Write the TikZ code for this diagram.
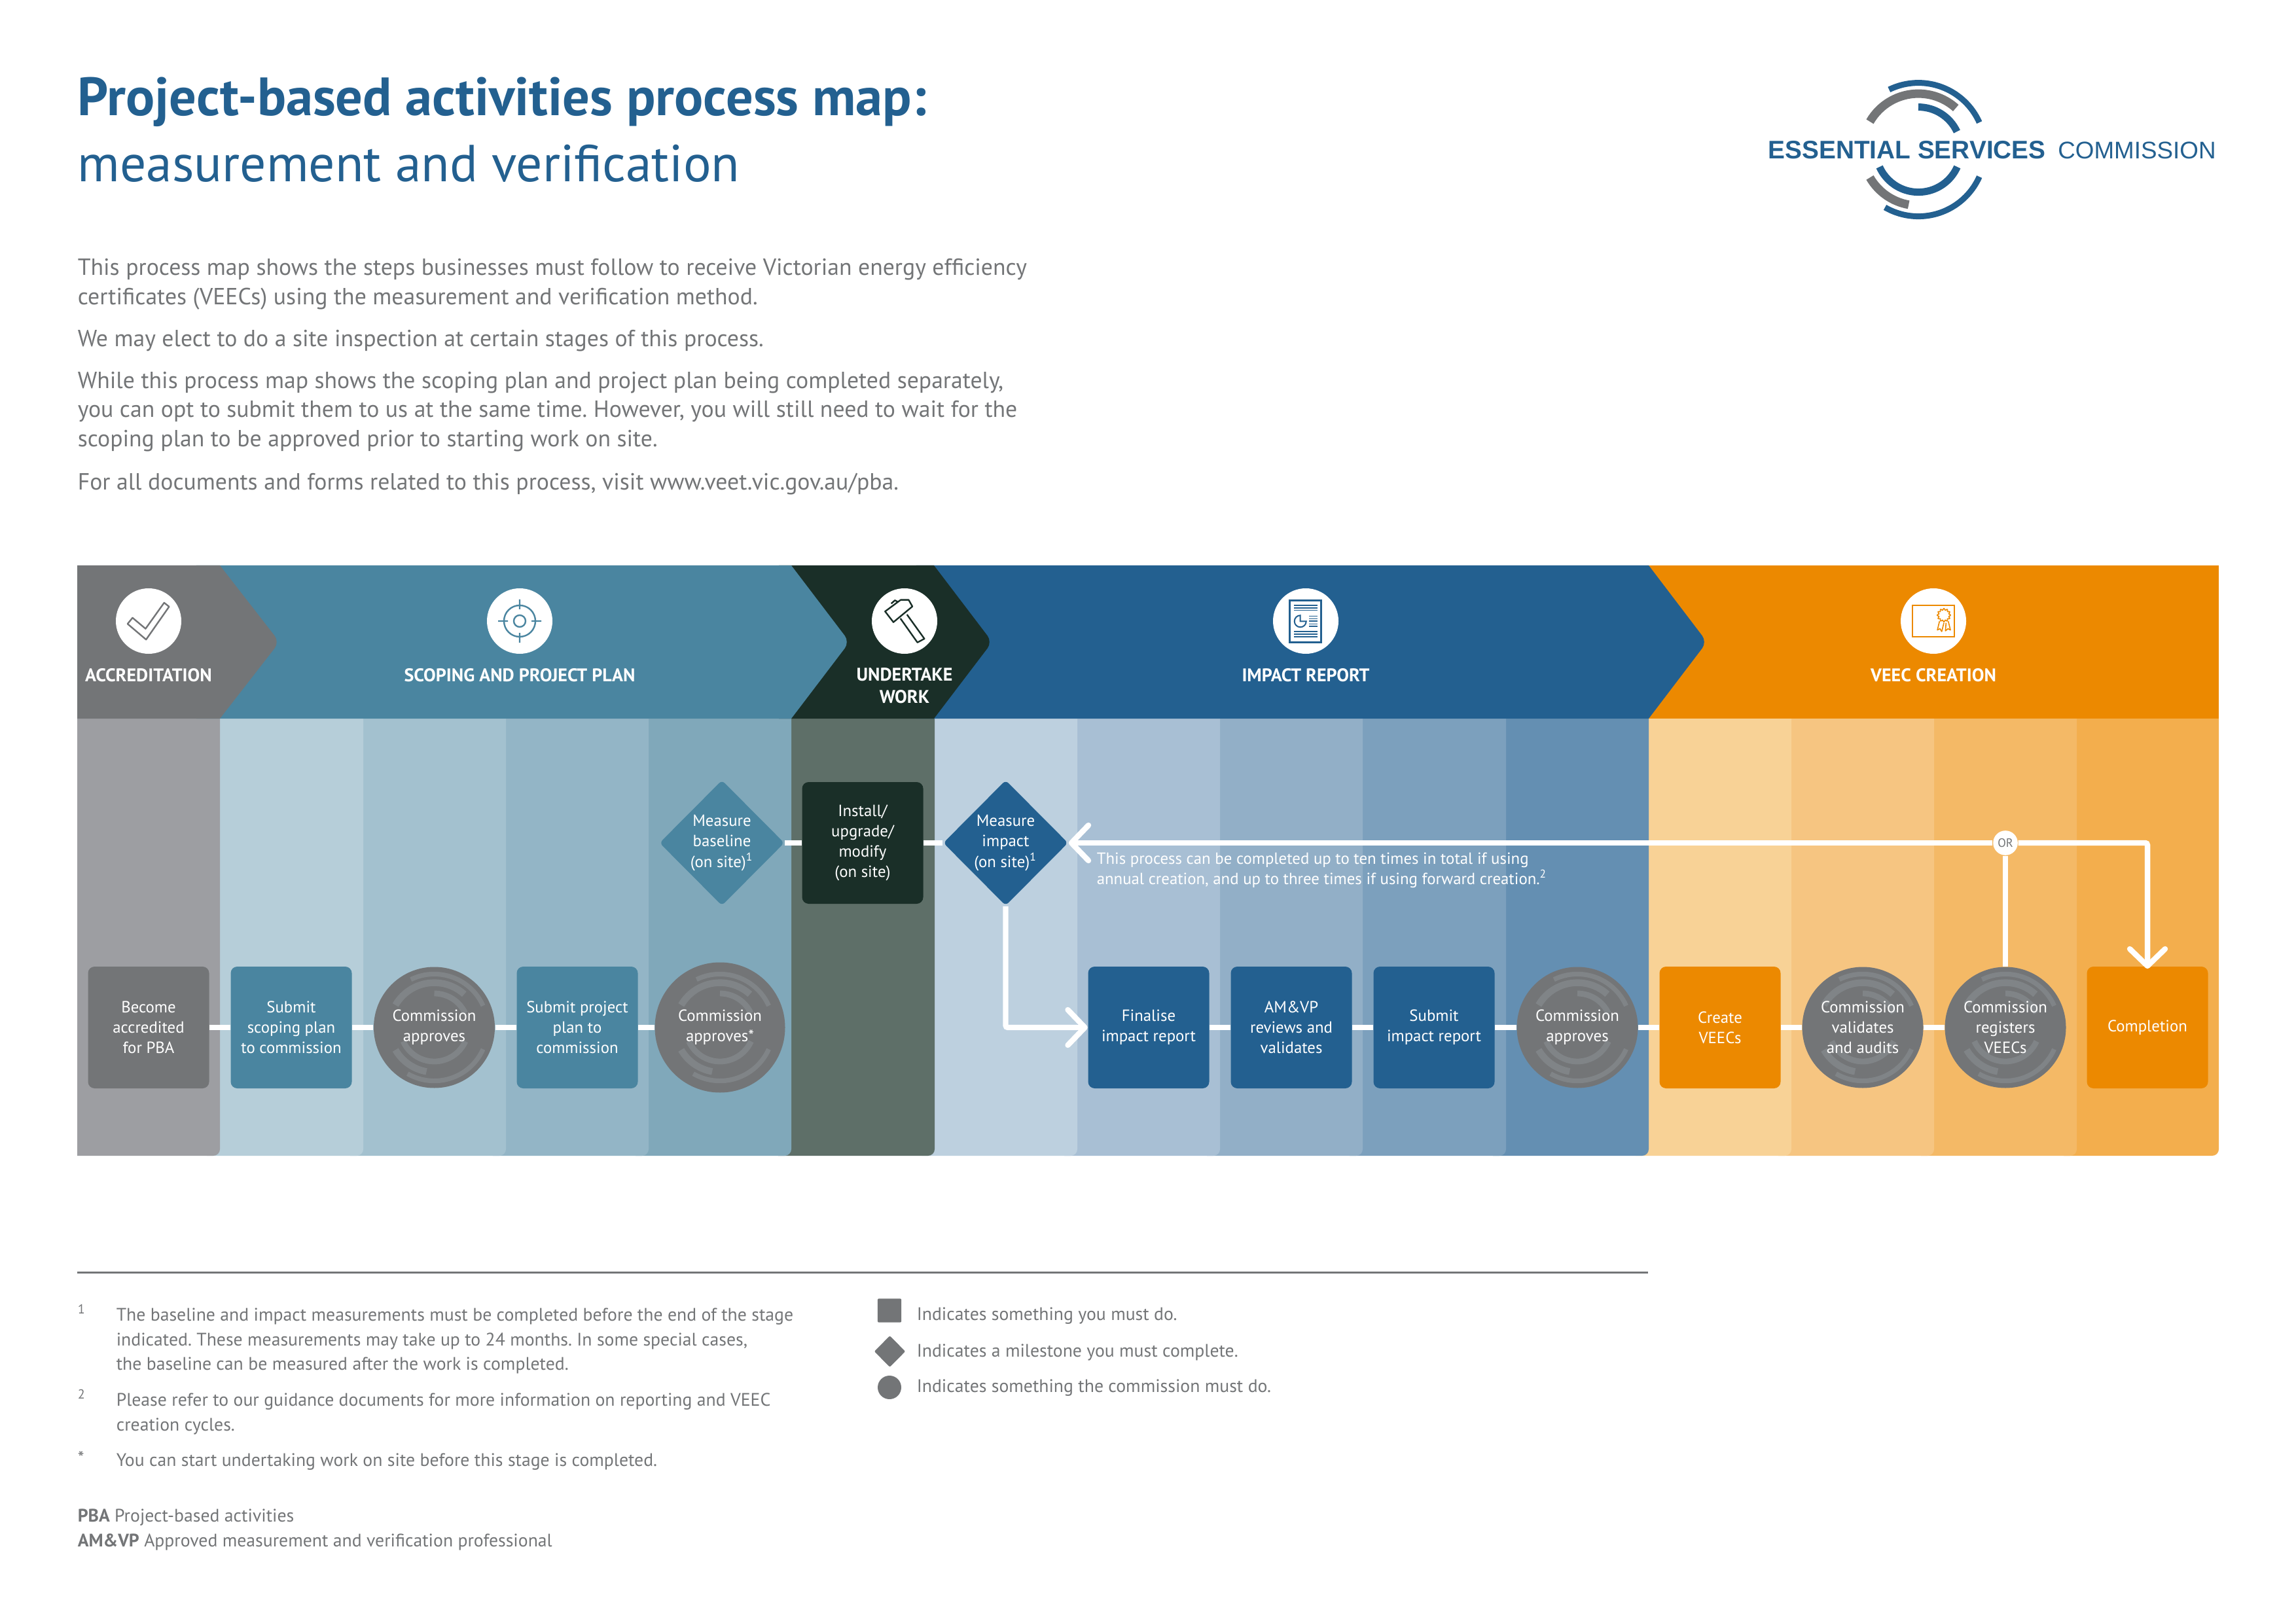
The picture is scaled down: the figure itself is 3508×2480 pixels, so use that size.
\documentclass[tikz,border=0pt]{standalone}
\usepackage{fontspec}
\setmainfont{PT Sans}
\newfontfamily\logofont{Liberation Sans}
\usetikzlibrary{arrows.meta,shapes.geometric}
\definecolor{escgrey}{HTML}{737577}
\definecolor{escteal}{HTML}{4A85A0}
\definecolor{escdark}{HTML}{1A2F28}
\definecolor{escblue}{HTML}{236090}
\definecolor{escorange}{HTML}{EC8900}
\definecolor{escmark}{HTML}{808487}
\tikzset{
	bodytext/.style={anchor=west, inner sep=0pt, align=left, text=escgrey, font=\fontsize{8.93}{11.2}\selectfont},
	notetext/.style={anchor=west, inner sep=0pt, align=left, text=escgrey, font=\fontsize{6.93}{9.4}\selectfont},
	headtext/.style={inner sep=0pt, align=center, text=white, font=\fontsize{7}{8.5}\selectfont\bfseries},
	flowtext/.style={inner sep=0pt, align=center, text=white, font=\fontsize{6.2}{7.8}\selectfont},
	stepbox/.style={flowtext, draw=none, fill=#1, rounded corners=2.5pt, minimum width=46.25pt, minimum height=46.5pt},
	milestone/.style={flowtext, diamond, aspect=1, inner sep=-7pt, fill=#1, rounded corners=1.5pt, minimum width=47.75pt, minimum height=48pt},
	commstep/.style={flowtext, circle, minimum size=#1},
	flowline/.style={white, line width=2.1pt, rounded corners=0.8pt},
	badge/.style={line width=0.6pt}
}
\newcommand{\logoarcs}[5]{
	\begin{scope}[shift={(#1,#2)}, scale=#3]
		\draw[#4, line width=2.25pt*#3] (-116:102) arc (-116:-24:102);
		\draw[#4, line width=2.25pt*#3] (24:102) arc (24:120:102);
		\draw[#5, line width=3.25pt*#3] (-150:85.5) arc (-150:-48:85.5);
		\draw[#5, line width=3.25pt*#3] (150:85.5) arc (150:100:85.5);
		\draw[#4, line width=2.75pt*#3] (-90:65) arc (-90:-25:65);
		\draw[#4, line width=2.75pt*#3] (24:65) arc (24:156:65);
	\end{scope}
}
\begin{document}
\frenchspacing
\begin{tikzpicture}[x=0.25pt, y=-0.25pt, >={Straight Barb[length=6.5pt, width=13.5pt, round]}]
	\useasboundingbox (0,0) rectangle (3508,2480);
	\node[anchor=west, inner sep=0pt, text=escblue, font=\fontsize{20.6}{24}\selectfont\bfseries] (title) at (118,156) {Project-based activities process map:};
	\node[anchor=west, inner sep=0pt, text=escblue, font=\fontsize{19.9}{24}\selectfont] (subtitle) at (118,250) {measurement and verification};
	\node[bodytext] (introa) at (118,434) {This process map shows the steps businesses must follow to receive Victorian energy efficiency\\certificates (VEECs) using the measurement and verification method.};
	\node[bodytext] (introb) at (118,521) {We may elect to do a site inspection at certain stages of this process.};
	\node[bodytext] (introc) at (118,629) {While this process map shows the scoping plan and project plan being completed separately,\\you can opt to submit them to us at the same time. However, you will still need to wait for the\\scoping plan to be approved prior to starting work on site.};
	\node[bodytext] (introd) at (118,740) {For all documents and forms related to this process, visit www.veet.vic.gov.au/pba.};
	\logoarcs{2931}{228.6}{1}{escblue}{escgrey}
	\node[inner sep=0pt, text=escblue] (logo) at (3043.5,229) {\logofont\fontsize{9.7}{12}\selectfont\textbf{ESSENTIAL SERVICES}\hspace{2pt} \fontsize{9.2}{12}\selectfont COMMISSION};
	\foreach \xa/\xb/\shade in {3173/3390/F3AE4D, 2955/3173/F4B966, 2737/2955/F6C581, 2519/2737/F8D296, 2301/2519/648FB2, 2082/2301/7CA0BD, 1864/2082/92AFC7, 1646/1864/A8BFD4, 1428/1646/BDD0DF, 1209/1428/5E6F68, 991/1209/80A8BA, 773/991/93B5C6, 555/773/A3C1CF, 336/555/B6CED9, 118/336/9D9EA2} {
		\definecolor{colshade}{HTML}{\shade}
		\fill[colshade] (\xa,1098) -- (\xb,1098) [rounded corners=2.5pt] -- (\xb,1766) [sharp corners] -- (\xa-20,1766) -- (\xa-20,1098) -- cycle;
	}
	\fill[white] (0,1098) rectangle (118,1780);
	\fill[escorange] (2400,864) rectangle (3390,1098);
	\fill[escblue] (1400,864) -- (2519,864) [rounded corners=3pt] -- (2608,981) [sharp corners] -- (2519,1098) -- (1400,1098) -- cycle;
	\fill[escdark] (1190,864) -- (1427,864) [rounded corners=3pt] -- (1516,981) [sharp corners] -- (1427,1098) -- (1190,1098) -- cycle;
	\fill[escteal] (300,864) -- (1209,864) [rounded corners=3pt] -- (1298,981) [sharp corners] -- (1209,1098) -- (300,1098) -- cycle;
	\fill[escgrey] (118,864) -- (336,864) [rounded corners=3pt] -- (427,981) [sharp corners] -- (336,1098) -- (118,1098) -- cycle;
	\foreach \xa in {227,794,1382,1995,2954} {
		\fill[white] (\xa,949) circle (50);
	}
	\draw[escgrey, badge, line join=round] (250.8,921) -- (258.4,927) -- (223.2,977.3) -- (194.9,953.3) -- (202.5,944) -- (222.4,960.7) -- cycle;
	\draw[escteal, badge] (794,949) circle (24) (794,949) circle (9) (794,916) -- (794,931) (794,967) -- (794,982) (761,949) -- (776,949) (812,949) -- (827,949);
	\draw[escdark, badge, line join=round] (1352.3,934.3) -- (1376,916.7) -- (1388.3,916.7) -- (1394,926.7) -- (1365,950.7) -- cycle (1361.7,922.3) -- (1367.3,917.3) -- (1371,919.3) (1375.7,945) -- (1401.7,981.7) -- (1412.3,976) -- (1385.7,939);
	\draw[escblue, line width=0.75pt] (1970,917.3) rectangle (2018.3,981.7);
	\draw[escblue, line width=0.5pt] (1986.7,940.3) arc (-90:-360:9) -- (1986.7,949.3) -- cycle;
	\foreach \ya in {925,929,932.7,965,969,972.7} {
		\draw[escblue, line width=0.4pt] (1977.3,\ya) -- (2012.7,\ya);
	}
	\foreach \ya in {941.7,945.7,949.3,953.3,957} {
		\draw[escblue, line width=0.4pt] (2000.3,\ya) -- (2012.7,\ya);
	}
	\draw[escorange, line width=0.55pt] (2921.7,925) rectangle (2986,973.3);
	\draw[escorange, line width=0.4pt] plot[domain=0:360, samples=73, smooth] ({2970+(9+1.2*cos(12*\x))*cos(\x)},{940+(9+1.2*cos(12*\x))*sin(\x)});
	\draw[escorange, line width=0.4pt, line join=round] (2963.3,949.3) -- (2960,962.7) -- (2964,960.7) -- (2966.7,965) -- (2970,951.7) (2973.3,951.7) -- (2972.3,964) -- (2976.3,960.7) -- (2980,962.7) -- (2976.7,949.3);
	\node[headtext] (accreditation) at (227,1032) {ACCREDITATION};
	\node[headtext] (scopehead) at (794,1032) {SCOPING AND PROJECT PLAN};
	\node[headtext] (workhead) at (1382,1048) {UNDERTAKE\\WORK};
	\node[headtext] (impacthead) at (1995,1032) {IMPACT REPORT};
	\node[headtext] (veechead) at (2954,1032) {VEEC CREATION};
	\foreach \xa/\rad in {663.5/92.5,2410/92.5,2846/92.5,3064/92.5,1100/99.5} {
		\fill[escgrey] (\xa,1570) circle (\rad);
		\logoarcs{\xa}{1570}{0.8}{escmark}{escmark}
	}
	\node[stepbox=escgrey] (accredit) at (227,1570) {Become\\accredited\\for PBA};
	\node[stepbox=escteal] (scoping) at (445,1570) {Submit\\scoping plan\\to commission};
	\node[commstep=46.25pt] (approvea) at (663.5,1570) {Commission\\approves};
	\node[stepbox=escteal] (projectplan) at (882,1570) {Submit project\\plan to\\commission};
	\node[commstep=49.75pt] (approveb) at (1100,1570) {Commission\\approves*};
	\node[milestone=escteal] (baseline) at (1103,1288) {Measure\\baseline\\(on site)\textsuperscript{1}};
	\node[stepbox=escdark] (install) at (1318,1288) {Install/\\upgrade/\\modify\\(on site)};
	\node[milestone=escblue] (impact) at (1536.5,1288) {Measure\\impact\\(on site)\textsuperscript{1}};
	\node[stepbox=escblue] (finalise) at (1755,1570) {Finalise\\impact report};
	\node[stepbox=escblue] (validate) at (1973,1570) {AM\&VP\\reviews and\\validates};
	\node[stepbox=escblue] (submit) at (2191,1570) {Submit\\impact report};
	\node[commstep=46.25pt] (approvec) at (2410,1570) {Commission\\approves};
	\node[stepbox=escorange] (create) at (2628,1570) {Create\\VEECs};
	\node[commstep=46.25pt] (audit) at (2846,1570) {Commission\\validates\\and audits};
	\node[commstep=46.25pt] (register) at (3064,1570) {Commission\\registers\\VEECs};
	\node[stepbox=escorange] (completion) at (3281,1570) {Completion};
	\node[circle, fill=white, inner sep=0pt, minimum size=9.4pt, text=escgrey, font=\fontsize{4.6}{5}\selectfont] (orsplit) at (3064,1288) {OR};
	\node[flowtext, anchor=west, align=left] (repeatnote) at (1675,1330) {This process can be completed up to ten times in total if using\\annual creation, and up to three times if using forward creation.\textsuperscript{2}};
	\draw[flowline] (accredit) -- (scoping);
	\draw[flowline] (scoping) -- (approvea);
	\draw[flowline] (approvea) -- (projectplan);
	\draw[flowline] (projectplan) -- (approveb);
	\draw[flowline] (baseline) -- (install);
	\draw[flowline] (install) -- (impact);
	\draw[flowline, ->] (impact) |- (finalise);
	\draw[flowline] (finalise) -- (validate);
	\draw[flowline] (validate) -- (submit);
	\draw[flowline] (submit) -- (approvec);
	\draw[flowline] (approvec) -- (create);
	\draw[flowline] (create) -- (audit);
	\draw[flowline] (audit) -- (register);
	\draw[flowline] (register) -- (orsplit);
	\draw[flowline, ->] (orsplit) -- (impact);
	\draw[flowline, ->] (orsplit) -| ([yshift=-1pt]completion.north);
	\draw[escgrey, line width=0.75pt] (118,1944) -- (2518,1944);
	\node[notetext] (marka) at (118,2000) {\fontsize{5}{6}\selectfont 1};
	\node[notetext] (notea) at (177,2049) {The baseline and impact measurements must be completed before the end of the stage\\indicated. These measurements may take up to 24 months. In some special cases,\\the baseline can be measured after the work is completed.};
	\node[notetext] (markb) at (118,2130) {\fontsize{5}{6}\selectfont 2};
	\node[notetext] (noteb) at (177,2160.5) {Please refer to our guidance documents for more information on reporting and VEEC\\creation cycles.};
	\node[notetext] (markc) at (118,2228) {*};
	\node[notetext] (notec) at (177,2234) {You can start undertaking work on site before this stage is completed.};
	\node[notetext] (abbrev) at (118,2337.5) {\textbf{PBA} Project-based activities\\\textbf{AM\&VP} Approved measurement and verification professional};
	\node[fill=escgrey, rounded corners=0.5pt, inner sep=0pt, minimum size=9.1pt] (keybox) at (1359,2002.5) {};
	\node[diamond, fill=escgrey, aspect=1, rounded corners=0.5pt, inner sep=0pt, minimum width=12pt, minimum height=12.1pt] (keydiamond) at (1359.5,2065) {};
	\node[circle, fill=escgrey, inner sep=0pt, minimum size=9pt] (keycircle) at (1359,2120) {};
	\node[notetext] (keyboxtext) at (1400,2011) {Indicates something you must do.};
	\node[notetext] (keydiamondtext) at (1400,2067) {Indicates a milestone you must complete.};
	\node[notetext] (keycircletext) at (1400,2121) {Indicates something the commission must do.};
\end{tikzpicture}
\end{document}
